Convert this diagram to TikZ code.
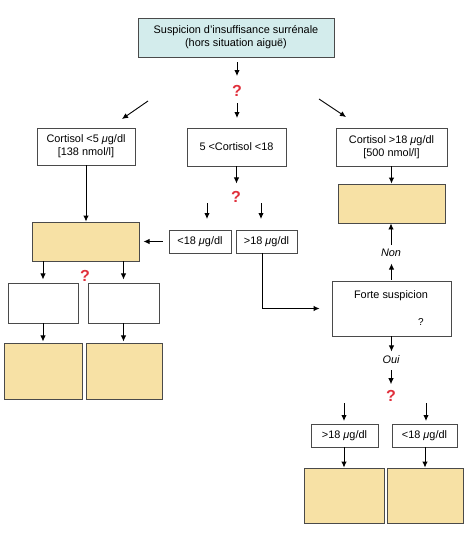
\documentclass[tikz,border=0pt]{standalone}
\usepackage{fontspec}
\setmainfont{Liberation Sans}
\usetikzlibrary{arrows.meta}
\definecolor{tealfill}{HTML}{D3ECEC}
\definecolor{beigefill}{HTML}{F7E1A5}
\definecolor{boxline}{HTML}{4A4A4A}
\definecolor{qred}{HTML}{E0303C}
\begin{document}
\begin{tikzpicture}[x=1pt,y=-1pt,
  box/.style={draw=boxline,line width=0.9pt,fill=white,inner sep=0pt,align=center,
    font=\fontsize{10.9}{13}\selectfont},
  beige/.style={box,fill=beigefill},
  arr/.style={-{Latex[length=6pt,width=5.5pt]},line width=0.9pt,black},
  qm/.style={text=qred,font=\fontsize{16}{16}\selectfont\bfseries,inner sep=0pt},
  lbl/.style={font=\fontsize{10.9}{13}\selectfont\itshape,inner sep=0pt}]
\useasboundingbox (0,0) rectangle (474,533);
% boxes
\node[box,fill=tealfill,minimum width=196pt,minimum height=39pt] (top) at (236,37.5)
  {Suspicion d'insuffisance surrénale\\(hors situation aiguë)};
\node[box,minimum width=98pt,minimum height=37pt] (cl) at (86,146.5)
  {Cortisol <5 {\itshape μ}g/dl\\{[}138 nmol/l{]}};
\node[box,minimum width=99pt,minimum height=38pt] (cm) at (236.5,147)
  {5 <Cortisol <18};
\node[box,minimum width=111pt,minimum height=38pt] (cr) at (391.5,147)
  {Cortisol >18 {\itshape μ}g/dl\\{[}500 nmol/l{]}};
\node[beige,minimum width=107pt,minimum height=39pt] (br) at (391.5,203.5) {};
\node[beige,minimum width=107pt,minimum height=39pt] (bl) at (85.5,241.5) {};
\node[box,minimum width=62pt,minimum height=23pt] (lt) at (200,241.5) {<18 {\itshape μ}g/dl};
\node[box,minimum width=61pt,minimum height=23pt] (gt) at (266.5,241.5) {>18 {\itshape μ}g/dl};
\node[box,minimum width=70pt,minimum height=40pt] (w1) at (43,303) {};
\node[box,minimum width=71pt,minimum height=40pt] (w2) at (123.5,303) {};
\node[beige,minimum width=78pt,minimum height=56pt] (b1) at (43,371) {};
\node[beige,minimum width=76pt,minimum height=56pt] (b2) at (124,371) {};
\node[box,minimum width=119pt,minimum height=55pt] (fs) at (391.5,308.5) {};
\node[inner sep=0pt,font=\fontsize{10.9}{13}\selectfont] (fst) at (391,296) {Forte suspicion};
\node[inner sep=0pt,font=\fontsize{10}{12}\selectfont] (fsq) at (421,322) {?};
\node[box,minimum width=67pt,minimum height=23pt] (gt2) at (344.5,435.5) {>18 {\itshape μ}g/dl};
\node[box,minimum width=65pt,minimum height=23pt] (lt2) at (424.5,435.5) {<18 {\itshape μ}g/dl};
\node[beige,minimum width=80pt,minimum height=55pt] (b3) at (344,495.5) {};
\node[beige,minimum width=76pt,minimum height=55pt] (b4) at (425,495.5) {};
% question marks and labels
\node[qm] (q1) at (237,91) {?};
\node[qm] (q2) at (236,197) {?};
\node[qm] (q3) at (85,276) {?};
\node[qm] (q4) at (391,396) {?};
\node[lbl] (non) at (391,253) {Non};
\node[lbl] (oui) at (391,360) {Oui};
% coordinates
\coordinate (d1s) at (148,101); \coordinate (d1e) at (122,119);
\coordinate (d2s) at (319,99);  \coordinate (d2e) at (346,117);
\coordinate (m1) at (207,203); \coordinate (m1e) at (207,219);
\coordinate (m2) at (261,203); \coordinate (m2e) at (261,219);
\coordinate (r1) at (344,403); \coordinate (r1e) at (344,421);
\coordinate (r2) at (426,403); \coordinate (r2e) at (426,421);
% arrows
\draw[arr] (237,62) -- (237,76);
\draw[arr] (237,103) -- (237,118);
\draw[arr] (d1s) -- (d1e);
\draw[arr] (d2s) -- (d2e);
\draw[arr] (cm.south) -- ++(0,17);
\draw[arr] (m1) -- (m1e);
\draw[arr] (m2) -- (m2e);
\draw[arr] (cr.south) -- (cr.south |- br.north);
\draw[arr] (cl.south) -- (cl.south |- bl.north);
\draw[arr] (lt.west) ++(-6,0) -- ++(-19,0);
\draw[arr] (bl.south -| w1.north) -- ++(0,18);
\draw[arr] (bl.south -| w2.north) -- ++(0,18);
\draw[arr] (w1.south) -- ++(0,18);
\draw[arr] (w2.south) -- ++(0,18);
\draw[arr] (262,253) |- ([xshift=-12pt]fs.west);
\draw[arr] (fs.north) ++(0,-1) -- ++(0,-16);
\draw[arr] (non.north) ++(0,-4) -- (non.north |- br.south);
\draw[arr] (fs.south) -- ++(0,15);
\draw[arr] (oui.south) ++(0,6) -- ++(0,14);
\draw[arr] (r1) -- (r1e);
\draw[arr] (r2) -- (r2e);
\draw[arr] (gt2.south -| b3.north) -- (b3.north);
\draw[arr] (lt2.south -| b4.north) -- (b4.north);
\end{tikzpicture}
\end{document}
